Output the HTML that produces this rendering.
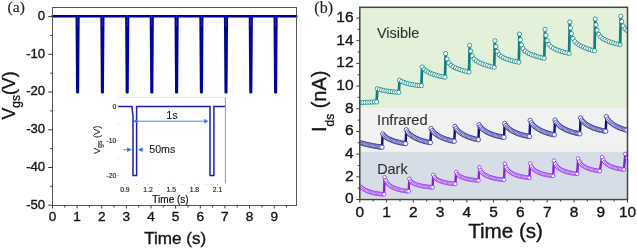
<!DOCTYPE html>
<html><head><meta charset="utf-8"><title>Figure</title>
<style>html,body{margin:0;padding:0;background:#fff;}body{width:637px;height:248px;overflow:hidden;}svg{display:block;}</style>
</head><body><svg width="637" height="248" viewBox="0 0 637 248"><defs><filter id="gb" x="0" y="0" width="100%" height="100%"><feGaussianBlur stdDeviation="0.3"/></filter></defs><g filter="url(#gb)"><rect width="637" height="248" fill="#fff"/><text x="7.6" y="12.3" font-family="Liberation Serif, Times New Roman, serif" font-size="15.5" stroke="#222" stroke-width="0.15" fill="#222">(a)</text><path d="M52.5 16.3 L76.70 16.3 L77.25 92.3 L77.95 92.3 L78.50 16.3 L101.50 16.3 L102.05 92.3 L102.75 92.3 L103.30 16.3 L126.30 16.3 L126.85 92.3 L127.55 92.3 L128.10 16.3 L150.90 16.3 L151.45 92.3 L152.15 92.3 L152.70 16.3 L175.70 16.3 L176.25 92.3 L176.95 92.3 L177.50 16.3 L200.50 16.3 L201.05 92.3 L201.75 92.3 L202.30 16.3 L225.10 16.3 L225.65 92.3 L226.35 92.3 L226.90 16.3 L249.90 16.3 L250.45 92.3 L251.15 92.3 L251.70 16.3 L274.70 16.3 L275.25 92.3 L275.95 92.3 L276.50 16.3 L296.5 16.3" fill="none" stroke="#0303a6" stroke-width="2.4" stroke-linejoin="round" stroke-linecap="round"/><line x1="77.6" y1="16.8" x2="77.6" y2="26" stroke="#5a5ad8" stroke-width="0.6" stroke-opacity="0.7"/><line x1="102.4" y1="16.8" x2="102.4" y2="26" stroke="#5a5ad8" stroke-width="0.6" stroke-opacity="0.7"/><line x1="127.2" y1="16.8" x2="127.2" y2="26" stroke="#5a5ad8" stroke-width="0.6" stroke-opacity="0.7"/><line x1="151.8" y1="16.8" x2="151.8" y2="26" stroke="#5a5ad8" stroke-width="0.6" stroke-opacity="0.7"/><line x1="176.6" y1="16.8" x2="176.6" y2="26" stroke="#5a5ad8" stroke-width="0.6" stroke-opacity="0.7"/><line x1="201.4" y1="16.8" x2="201.4" y2="26" stroke="#5a5ad8" stroke-width="0.6" stroke-opacity="0.7"/><line x1="226.0" y1="16.8" x2="226.0" y2="26" stroke="#5a5ad8" stroke-width="0.6" stroke-opacity="0.7"/><line x1="250.8" y1="16.8" x2="250.8" y2="26" stroke="#5a5ad8" stroke-width="0.6" stroke-opacity="0.7"/><line x1="275.6" y1="16.8" x2="275.6" y2="26" stroke="#5a5ad8" stroke-width="0.6" stroke-opacity="0.7"/><rect x="118.2" y="97.4" width="107.2" height="86" fill="#fff"/><line x1="118.2" y1="97.5" x2="225.4" y2="97.5" stroke="#ececec" stroke-width="1"/><line x1="225.4" y1="97.5" x2="225.4" y2="183.5" stroke="#999" stroke-width="1"/><path d="M118.2 106.4 L131.9 106.4 L133.0 116 L133.0 175.6 L136.6 175.6 L136.6 106.4 L210.0 106.4 L210.0 175.6 L213.9 175.6 L213.9 106.4 L225 106.4" fill="none" stroke="#1f1fc0" stroke-width="1.5"/><line x1="134" y1="121.2" x2="205" y2="121.2" stroke="#3f7ad6" stroke-width="0.9"/><path d="M133.0 121.2 L137.6 118.9 L137.6 123.5 Z" fill="#3f7ad6"/><path d="M208.7 121.2 L204.1 118.9 L204.1 123.5 Z" fill="#3f7ad6"/><line x1="123.3" y1="149.7" x2="128" y2="149.7" stroke="#3f7ad6" stroke-width="0.8"/><path d="M131.8 149.7 L127.1 147.3 L127.1 152.1 Z" fill="#3f7ad6"/><line x1="142" y1="149.7" x2="143.5" y2="149.7" stroke="#3f7ad6" stroke-width="0.8"/><path d="M137.9 149.7 L142.6 147.3 L142.6 152.1 Z" fill="#3f7ad6"/><text x="172" y="119.2" font-family="Liberation Sans, Arial, sans-serif" font-size="11" text-anchor="middle" stroke="#222" stroke-width="0.1" fill="#222">1s</text><text x="149.3" y="153.0" font-family="Liberation Sans, Arial, sans-serif" font-size="10.6" stroke="#222" stroke-width="0.1" fill="#222">50ms</text><text x="116.3" y="108.5" font-family="Liberation Sans, Arial, sans-serif" font-size="6.8" text-anchor="end" stroke="#222" stroke-width="0.15" fill="#222">0</text><line x1="117.2" y1="106.1" x2="118.6" y2="106.1" stroke="#777" stroke-width="0.6"/><text x="116.3" y="143.2" font-family="Liberation Sans, Arial, sans-serif" font-size="6.8" text-anchor="end" stroke="#222" stroke-width="0.15" fill="#222">-10</text><line x1="117.2" y1="140.8" x2="118.6" y2="140.8" stroke="#777" stroke-width="0.6"/><text x="116.3" y="178.0" font-family="Liberation Sans, Arial, sans-serif" font-size="6.8" text-anchor="end" stroke="#222" stroke-width="0.15" fill="#222">-20</text><line x1="117.2" y1="175.6" x2="118.6" y2="175.6" stroke="#777" stroke-width="0.6"/><line x1="118" y1="123.5" x2="119" y2="123.5" stroke="#aaa" stroke-width="0.6"/><line x1="118" y1="158.2" x2="119" y2="158.2" stroke="#aaa" stroke-width="0.6"/><text x="124.9" y="191.8" font-family="Liberation Sans, Arial, sans-serif" font-size="6.8" text-anchor="middle" stroke="#222" stroke-width="0.15" fill="#222">0.9</text><line x1="124.9" y1="183.8" x2="124.9" y2="185.2" stroke="#888" stroke-width="0.6"/><text x="148.1" y="191.8" font-family="Liberation Sans, Arial, sans-serif" font-size="6.8" text-anchor="middle" stroke="#222" stroke-width="0.15" fill="#222">1.2</text><line x1="148.1" y1="183.8" x2="148.1" y2="185.2" stroke="#888" stroke-width="0.6"/><text x="171.2" y="191.8" font-family="Liberation Sans, Arial, sans-serif" font-size="6.8" text-anchor="middle" stroke="#222" stroke-width="0.15" fill="#222">1.5</text><line x1="171.2" y1="183.8" x2="171.2" y2="185.2" stroke="#888" stroke-width="0.6"/><text x="194.4" y="191.8" font-family="Liberation Sans, Arial, sans-serif" font-size="6.8" text-anchor="middle" stroke="#222" stroke-width="0.15" fill="#222">1.8</text><line x1="194.4" y1="183.8" x2="194.4" y2="185.2" stroke="#888" stroke-width="0.6"/><text x="217.5" y="191.8" font-family="Liberation Sans, Arial, sans-serif" font-size="6.8" text-anchor="middle" stroke="#222" stroke-width="0.15" fill="#222">2.1</text><line x1="217.5" y1="183.8" x2="217.5" y2="185.2" stroke="#888" stroke-width="0.6"/><line x1="136.5" y1="184" x2="136.5" y2="185" stroke="#aaa" stroke-width="0.6"/><line x1="159.6" y1="184" x2="159.6" y2="185" stroke="#aaa" stroke-width="0.6"/><line x1="182.8" y1="184" x2="182.8" y2="185" stroke="#aaa" stroke-width="0.6"/><line x1="206.0" y1="184" x2="206.0" y2="185" stroke="#aaa" stroke-width="0.6"/><text x="170.5" y="202.5" font-family="Liberation Sans, Arial, sans-serif" font-size="10" text-anchor="middle" stroke="#111" stroke-width="0.2" fill="#111">Time (s)</text><text transform="translate(99.6,139.8) rotate(-90)" font-family="Liberation Sans, Arial, sans-serif" font-size="9.3" text-anchor="middle" fill="#222" stroke="#222" stroke-width="0.15">V<tspan font-size="6.6" dy="2">gs</tspan><tspan dy="-2"> (V)</tspan></text><rect x="52.5" y="7.5" width="244.0" height="198.0" fill="none" stroke="#555" stroke-width="1.0"/><line x1="48.2" y1="16.6" x2="52.5" y2="16.6" stroke="#3c3c3c" stroke-width="1"/><text x="45.2" y="19.9" font-family="Liberation Sans, Arial, sans-serif" font-size="13.2" text-anchor="end" stroke="#151515" stroke-width="0.35" fill="#151515">0</text><line x1="48.2" y1="54.3" x2="52.5" y2="54.3" stroke="#3c3c3c" stroke-width="1"/><text x="45.2" y="57.6" font-family="Liberation Sans, Arial, sans-serif" font-size="13.2" text-anchor="end" stroke="#151515" stroke-width="0.35" fill="#151515">-10</text><line x1="48.2" y1="92.0" x2="52.5" y2="92.0" stroke="#3c3c3c" stroke-width="1"/><text x="45.2" y="95.3" font-family="Liberation Sans, Arial, sans-serif" font-size="13.2" text-anchor="end" stroke="#151515" stroke-width="0.35" fill="#151515">-20</text><line x1="48.2" y1="129.8" x2="52.5" y2="129.8" stroke="#3c3c3c" stroke-width="1"/><text x="45.2" y="133.1" font-family="Liberation Sans, Arial, sans-serif" font-size="13.2" text-anchor="end" stroke="#151515" stroke-width="0.35" fill="#151515">-30</text><line x1="48.2" y1="167.5" x2="52.5" y2="167.5" stroke="#3c3c3c" stroke-width="1"/><text x="45.2" y="170.8" font-family="Liberation Sans, Arial, sans-serif" font-size="13.2" text-anchor="end" stroke="#151515" stroke-width="0.35" fill="#151515">-40</text><line x1="48.2" y1="205.2" x2="52.5" y2="205.2" stroke="#3c3c3c" stroke-width="1"/><text x="45.2" y="208.5" font-family="Liberation Sans, Arial, sans-serif" font-size="13.2" text-anchor="end" stroke="#151515" stroke-width="0.35" fill="#151515">-50</text><line x1="50.3" y1="35.5" x2="52.5" y2="35.5" stroke="#3c3c3c" stroke-width="1"/><line x1="50.3" y1="73.2" x2="52.5" y2="73.2" stroke="#3c3c3c" stroke-width="1"/><line x1="50.3" y1="110.9" x2="52.5" y2="110.9" stroke="#3c3c3c" stroke-width="1"/><line x1="50.3" y1="148.6" x2="52.5" y2="148.6" stroke="#3c3c3c" stroke-width="1"/><line x1="50.3" y1="186.3" x2="52.5" y2="186.3" stroke="#3c3c3c" stroke-width="1"/><line x1="52.5" y1="205.5" x2="52.5" y2="208.5" stroke="#3c3c3c" stroke-width="1"/><text x="52.5" y="221.2" font-family="Liberation Sans, Arial, sans-serif" font-size="13.6" text-anchor="middle" stroke="#151515" stroke-width="0.35" fill="#151515">0</text><line x1="77.1" y1="205.5" x2="77.1" y2="208.5" stroke="#3c3c3c" stroke-width="1"/><text x="77.1" y="221.2" font-family="Liberation Sans, Arial, sans-serif" font-size="13.6" text-anchor="middle" stroke="#151515" stroke-width="0.35" fill="#151515">1</text><line x1="101.8" y1="205.5" x2="101.8" y2="208.5" stroke="#3c3c3c" stroke-width="1"/><text x="101.8" y="221.2" font-family="Liberation Sans, Arial, sans-serif" font-size="13.6" text-anchor="middle" stroke="#151515" stroke-width="0.35" fill="#151515">2</text><line x1="126.4" y1="205.5" x2="126.4" y2="208.5" stroke="#3c3c3c" stroke-width="1"/><text x="126.4" y="221.2" font-family="Liberation Sans, Arial, sans-serif" font-size="13.6" text-anchor="middle" stroke="#151515" stroke-width="0.35" fill="#151515">3</text><line x1="151.0" y1="205.5" x2="151.0" y2="208.5" stroke="#3c3c3c" stroke-width="1"/><text x="151.0" y="221.2" font-family="Liberation Sans, Arial, sans-serif" font-size="13.6" text-anchor="middle" stroke="#151515" stroke-width="0.35" fill="#151515">4</text><line x1="175.6" y1="205.5" x2="175.6" y2="208.5" stroke="#3c3c3c" stroke-width="1"/><text x="175.6" y="221.2" font-family="Liberation Sans, Arial, sans-serif" font-size="13.6" text-anchor="middle" stroke="#151515" stroke-width="0.35" fill="#151515">5</text><line x1="200.3" y1="205.5" x2="200.3" y2="208.5" stroke="#3c3c3c" stroke-width="1"/><text x="200.3" y="221.2" font-family="Liberation Sans, Arial, sans-serif" font-size="13.6" text-anchor="middle" stroke="#151515" stroke-width="0.35" fill="#151515">6</text><line x1="224.9" y1="205.5" x2="224.9" y2="208.5" stroke="#3c3c3c" stroke-width="1"/><text x="224.9" y="221.2" font-family="Liberation Sans, Arial, sans-serif" font-size="13.6" text-anchor="middle" stroke="#151515" stroke-width="0.35" fill="#151515">7</text><line x1="249.5" y1="205.5" x2="249.5" y2="208.5" stroke="#3c3c3c" stroke-width="1"/><text x="249.5" y="221.2" font-family="Liberation Sans, Arial, sans-serif" font-size="13.6" text-anchor="middle" stroke="#151515" stroke-width="0.35" fill="#151515">8</text><line x1="274.2" y1="205.5" x2="274.2" y2="208.5" stroke="#3c3c3c" stroke-width="1"/><text x="274.2" y="221.2" font-family="Liberation Sans, Arial, sans-serif" font-size="13.6" text-anchor="middle" stroke="#151515" stroke-width="0.35" fill="#151515">9</text><line x1="64.8" y1="205.5" x2="64.8" y2="207.5" stroke="#3c3c3c" stroke-width="1"/><line x1="89.4" y1="205.5" x2="89.4" y2="207.5" stroke="#3c3c3c" stroke-width="1"/><line x1="114.1" y1="205.5" x2="114.1" y2="207.5" stroke="#3c3c3c" stroke-width="1"/><line x1="138.7" y1="205.5" x2="138.7" y2="207.5" stroke="#3c3c3c" stroke-width="1"/><line x1="163.3" y1="205.5" x2="163.3" y2="207.5" stroke="#3c3c3c" stroke-width="1"/><line x1="188.0" y1="205.5" x2="188.0" y2="207.5" stroke="#3c3c3c" stroke-width="1"/><line x1="212.6" y1="205.5" x2="212.6" y2="207.5" stroke="#3c3c3c" stroke-width="1"/><line x1="237.2" y1="205.5" x2="237.2" y2="207.5" stroke="#3c3c3c" stroke-width="1"/><line x1="261.9" y1="205.5" x2="261.9" y2="207.5" stroke="#3c3c3c" stroke-width="1"/><line x1="286.5" y1="205.5" x2="286.5" y2="207.5" stroke="#3c3c3c" stroke-width="1"/><text x="175.2" y="243.9" font-family="Liberation Sans, Arial, sans-serif" font-size="16.8" text-anchor="middle" textLength="62" lengthAdjust="spacingAndGlyphs" stroke="#151515" stroke-width="0.35" fill="#151515">Time (s)</text><text transform="translate(14.8,95.5) rotate(-90)" font-family="Liberation Sans, Arial, sans-serif" font-size="17.7" text-anchor="middle" fill="#151515" stroke="#151515" stroke-width="0.35">V<tspan font-size="12" dy="5">gs</tspan><tspan dy="-5">(V)</tspan></text><rect x="359.8" y="7.3" width="267.7" height="100.7" fill="#e3f1da"/><rect x="359.8" y="108.0" width="267.7" height="43.8" fill="#f1f1f1"/><rect x="359.8" y="151.8" width="267.7" height="46.5" fill="#d7dde6"/><rect x="359.8" y="198.3" width="267.7" height="1.1999999999999886" fill="#e8ecf2"/><text x="376.9" y="38.45" font-family="Liberation Sans, Arial, sans-serif" font-size="14.5" textLength="42.3" lengthAdjust="spacingAndGlyphs" stroke="#333" stroke-width="0.12" fill="#333">Visible</text><text x="377.1" y="125.2" font-family="Liberation Sans, Arial, sans-serif" font-size="14.0" textLength="50.6" lengthAdjust="spacingAndGlyphs" stroke="#333" stroke-width="0.12" fill="#333">Infrared</text><text x="377.2" y="174.0" font-family="Liberation Sans, Arial, sans-serif" font-size="14.2" textLength="30.4" lengthAdjust="spacingAndGlyphs" stroke="#333" stroke-width="0.12" fill="#333">Dark</text><defs><filter id="bl" x="-5%" y="-5%" width="110%" height="110%"><feGaussianBlur stdDeviation="0.35"/></filter><clipPath id="cb"><rect x="359.8" y="7.3" width="267.7" height="192.2"/></clipPath></defs><g clip-path="url(#cb)"><g filter="url(#bl)"><g fill="#fff" stroke="#0a8080" stroke-width="0.75"><path d="M360.50 102.60 L361.31 102.56 L362.11 102.53 L362.92 102.49 L363.72 102.46 L364.52 102.42 L365.33 102.39 L366.13 102.36 L366.94 102.32 L367.75 102.28 L368.55 102.25 L369.36 102.22 L370.16 102.18 L370.97 102.14 L371.77 102.11 L372.58 102.08 L373.38 102.04 L374.19 102.01 L374.99 101.97 L375.80 101.94 L376.60 101.90 L376.60 101.90 L377.30 88.70 L378.38 89.07 L379.45 89.41 L380.53 89.72 L381.60 90.00 L382.68 90.26 L383.75 90.50 L384.82 90.71 L385.90 90.91 L386.98 91.09 L388.05 91.26 L389.12 91.41 L390.20 91.55 L391.28 91.67 L392.35 91.79 L393.43 91.89 L394.50 91.99 L395.57 92.08 L396.65 92.16 L397.73 92.23 L398.80 92.30 L398.80 92.30 L399.50 80.20 L400.60 80.89 L401.69 81.46 L402.78 81.95 L403.88 82.38 L404.98 82.77 L406.07 83.12 L407.16 83.43 L408.26 83.72 L409.36 83.98 L410.45 84.22 L411.54 84.43 L412.64 84.63 L413.74 84.81 L414.83 84.97 L415.92 85.12 L417.02 85.26 L418.12 85.39 L419.21 85.50 L420.30 85.60 L421.40 85.70 L421.40 85.70 L422.10 67.00 L423.24 68.46 L424.39 69.57 L425.53 70.48 L426.68 71.25 L427.82 71.92 L428.97 72.53 L430.11 73.07 L431.26 73.57 L432.40 74.03 L433.55 74.45 L434.69 74.84 L435.84 75.20 L436.99 75.52 L438.13 75.83 L439.27 76.10 L440.42 76.36 L441.56 76.60 L442.71 76.81 L443.86 77.02 L445.00 77.20 L445.00 77.20 L445.70 53.60 L446.87 58.63 L448.03 61.60 L449.19 63.48 L450.36 64.76 L451.52 65.71 L452.69 66.48 L453.86 67.13 L455.02 67.70 L456.19 68.22 L457.35 68.69 L458.51 69.13 L459.68 69.54 L460.84 69.92 L462.01 70.28 L463.18 70.62 L464.34 70.93 L465.50 71.22 L466.67 71.50 L467.83 71.76 L469.00 72.00 L469.00 72.00 L469.70 45.30 L470.93 51.99 L472.15 55.74 L473.38 58.00 L474.60 59.47 L475.82 60.52 L477.05 61.35 L478.27 62.04 L479.50 62.65 L480.72 63.20 L481.95 63.70 L483.18 64.18 L484.40 64.62 L485.62 65.03 L486.85 65.42 L488.07 65.78 L489.30 66.12 L490.52 66.44 L491.75 66.75 L492.97 67.03 L494.20 67.30 L494.20 67.30 L494.90 40.80 L496.09 47.65 L497.29 51.49 L498.48 53.76 L499.68 55.20 L500.88 56.21 L502.07 56.97 L503.26 57.60 L504.46 58.14 L505.65 58.62 L506.85 59.06 L508.04 59.47 L509.24 59.86 L510.43 60.22 L511.63 60.55 L512.82 60.87 L514.02 61.17 L515.21 61.45 L516.41 61.72 L517.60 61.96 L518.80 62.20 L518.80 62.20 L519.50 34.10 L520.74 41.99 L521.98 46.33 L523.22 48.86 L524.46 50.45 L525.70 51.57 L526.94 52.41 L528.18 53.11 L529.42 53.72 L530.66 54.27 L531.90 54.77 L533.14 55.23 L534.38 55.67 L535.62 56.07 L536.86 56.45 L538.10 56.81 L539.34 57.15 L540.58 57.46 L541.82 57.76 L543.06 58.04 L544.30 58.30 L544.30 58.30 L545.00 29.40 L546.21 37.11 L547.41 41.42 L548.62 43.95 L549.82 45.57 L551.02 46.69 L552.23 47.54 L553.44 48.24 L554.64 48.85 L555.85 49.39 L557.05 49.89 L558.25 50.35 L559.46 50.78 L560.66 51.18 L561.87 51.56 L563.08 51.91 L564.28 52.25 L565.49 52.56 L566.69 52.86 L567.89 53.14 L569.10 53.40 L569.10 53.40 L569.80 22.00 L571.04 31.37 L572.27 36.54 L573.51 39.55 L574.74 41.45 L575.98 42.78 L577.21 43.79 L578.45 44.63 L579.68 45.35 L580.92 46.00 L582.15 46.60 L583.38 47.15 L584.62 47.66 L585.86 48.15 L587.09 48.60 L588.33 49.03 L589.56 49.43 L590.79 49.80 L592.03 50.16 L593.26 50.49 L594.50 50.80 L594.50 50.80 L595.20 19.00 L596.45 27.43 L597.69 32.06 L598.94 34.74 L600.18 36.44 L601.43 37.63 L602.67 38.53 L603.92 39.27 L605.16 39.92 L606.41 40.50 L607.65 41.04 L608.89 41.53 L610.14 42.00 L611.38 42.43 L612.63 42.83 L613.88 43.22 L615.12 43.57 L616.37 43.91 L617.61 44.22 L618.86 44.52 L620.10 44.80 L620.10 44.80 L620.80 16.20 L621.11 18.21 L621.42 19.93 L621.73 21.40 L622.04 22.66 L622.35 23.75 L622.66 24.69 L622.97 25.50 L623.28 26.21 L623.59 26.83 L623.90 27.38 L624.21 27.86 L624.52 28.28 L624.83 28.66 L625.14 29.00 L625.45 29.31 L625.76 29.59 L626.07 29.85 L626.38 30.08 L626.69 30.30 L627.00 30.50 L627.00 30.50" fill="none" stroke="#0a8080" stroke-width="1.2" stroke-linejoin="round"/><line x1="376.60" y1="101.90" x2="377.30" y2="88.70" stroke="#0a8080" stroke-width="2.7" stroke-linecap="round"/><line x1="398.80" y1="92.30" x2="399.50" y2="80.20" stroke="#0a8080" stroke-width="2.7" stroke-linecap="round"/><line x1="421.40" y1="85.70" x2="422.10" y2="67.00" stroke="#0a8080" stroke-width="2.7" stroke-linecap="round"/><line x1="445.00" y1="77.20" x2="445.70" y2="53.60" stroke="#0a8080" stroke-width="2.7" stroke-linecap="round"/><line x1="469.00" y1="72.00" x2="469.70" y2="45.30" stroke="#0a8080" stroke-width="2.7" stroke-linecap="round"/><line x1="494.20" y1="67.30" x2="494.90" y2="40.80" stroke="#0a8080" stroke-width="2.7" stroke-linecap="round"/><line x1="518.80" y1="62.20" x2="519.50" y2="34.10" stroke="#0a8080" stroke-width="2.7" stroke-linecap="round"/><line x1="544.30" y1="58.30" x2="545.00" y2="29.40" stroke="#0a8080" stroke-width="2.7" stroke-linecap="round"/><line x1="569.10" y1="53.40" x2="569.80" y2="22.00" stroke="#0a8080" stroke-width="2.7" stroke-linecap="round"/><line x1="594.50" y1="50.80" x2="595.20" y2="19.00" stroke="#0a8080" stroke-width="2.7" stroke-linecap="round"/><line x1="620.10" y1="44.80" x2="620.80" y2="16.20" stroke="#0a8080" stroke-width="2.7" stroke-linecap="round"/><circle cx="360.50" cy="102.60" r="2.1"/><circle cx="362.80" cy="102.50" r="2.1"/><circle cx="365.10" cy="102.40" r="2.1"/><circle cx="367.40" cy="102.30" r="2.1"/><circle cx="369.70" cy="102.20" r="2.1"/><circle cx="372.00" cy="102.10" r="2.1"/><circle cx="374.30" cy="102.00" r="2.1"/><circle cx="376.60" cy="101.90" r="2.1"/><circle cx="377.30" cy="88.70" r="2.1"/><circle cx="379.44" cy="89.41" r="2.1"/><circle cx="381.59" cy="90.00" r="2.1"/><circle cx="383.73" cy="90.49" r="2.1"/><circle cx="385.88" cy="90.91" r="2.1"/><circle cx="388.03" cy="91.25" r="2.1"/><circle cx="390.19" cy="91.54" r="2.1"/><circle cx="392.34" cy="91.79" r="2.1"/><circle cx="394.49" cy="91.99" r="2.1"/><circle cx="396.65" cy="92.16" r="2.1"/><circle cx="398.80" cy="92.30" r="2.1"/><circle cx="399.50" cy="80.20" r="2.1"/><circle cx="401.66" cy="81.44" r="2.1"/><circle cx="403.83" cy="82.37" r="2.1"/><circle cx="406.02" cy="83.10" r="2.1"/><circle cx="408.21" cy="83.71" r="2.1"/><circle cx="410.41" cy="84.21" r="2.1"/><circle cx="412.60" cy="84.62" r="2.1"/><circle cx="414.80" cy="84.97" r="2.1"/><circle cx="417.00" cy="85.26" r="2.1"/><circle cx="419.20" cy="85.50" r="2.1"/><circle cx="421.40" cy="85.70" r="2.1"/><circle cx="422.10" cy="67.00" r="2.1"/><circle cx="424.06" cy="69.27" r="2.1"/><circle cx="426.10" cy="70.87" r="2.1"/><circle cx="428.17" cy="72.11" r="2.1"/><circle cx="430.26" cy="73.14" r="2.1"/><circle cx="432.35" cy="74.01" r="2.1"/><circle cx="434.45" cy="74.76" r="2.1"/><circle cx="436.56" cy="75.40" r="2.1"/><circle cx="438.66" cy="75.96" r="2.1"/><circle cx="440.78" cy="76.44" r="2.1"/><circle cx="442.89" cy="76.85" r="2.1"/><circle cx="445.00" cy="77.20" r="2.1"/><circle cx="445.70" cy="53.60" r="2.1"/><circle cx="446.98" cy="58.98" r="2.1"/><circle cx="448.79" cy="62.90" r="2.1"/><circle cx="450.91" cy="65.24" r="2.1"/><circle cx="453.13" cy="66.74" r="2.1"/><circle cx="455.38" cy="67.87" r="2.1"/><circle cx="457.64" cy="68.80" r="2.1"/><circle cx="459.91" cy="69.62" r="2.1"/><circle cx="462.18" cy="70.33" r="2.1"/><circle cx="464.45" cy="70.96" r="2.1"/><circle cx="466.72" cy="71.51" r="2.1"/><circle cx="469.00" cy="72.00" r="2.1"/><circle cx="469.70" cy="45.30" r="2.1"/><circle cx="470.71" cy="51.06" r="2.1"/><circle cx="472.20" cy="55.85" r="2.1"/><circle cx="474.16" cy="59.00" r="2.1"/><circle cx="476.31" cy="60.87" r="2.1"/><circle cx="478.52" cy="62.17" r="2.1"/><circle cx="480.75" cy="63.21" r="2.1"/><circle cx="482.98" cy="64.10" r="2.1"/><circle cx="485.22" cy="64.89" r="2.1"/><circle cx="487.46" cy="65.60" r="2.1"/><circle cx="489.70" cy="66.23" r="2.1"/><circle cx="491.95" cy="66.80" r="2.1"/><circle cx="494.20" cy="67.30" r="2.1"/><circle cx="494.90" cy="40.80" r="2.1"/><circle cx="495.84" cy="46.51" r="2.1"/><circle cx="497.24" cy="51.36" r="2.1"/><circle cx="499.13" cy="54.61" r="2.1"/><circle cx="501.24" cy="56.46" r="2.1"/><circle cx="503.41" cy="57.67" r="2.1"/><circle cx="505.60" cy="58.60" r="2.1"/><circle cx="507.79" cy="59.39" r="2.1"/><circle cx="509.99" cy="60.08" r="2.1"/><circle cx="512.19" cy="60.70" r="2.1"/><circle cx="514.39" cy="61.26" r="2.1"/><circle cx="516.59" cy="61.75" r="2.1"/><circle cx="518.80" cy="62.20" r="2.1"/><circle cx="519.50" cy="34.10" r="2.1"/><circle cx="520.31" cy="39.79" r="2.1"/><circle cx="521.49" cy="44.90" r="2.1"/><circle cx="523.15" cy="48.75" r="2.1"/><circle cx="525.14" cy="51.10" r="2.1"/><circle cx="527.22" cy="52.58" r="2.1"/><circle cx="529.34" cy="53.68" r="2.1"/><circle cx="531.46" cy="54.60" r="2.1"/><circle cx="533.60" cy="55.40" r="2.1"/><circle cx="535.73" cy="56.11" r="2.1"/><circle cx="537.87" cy="56.75" r="2.1"/><circle cx="540.01" cy="57.32" r="2.1"/><circle cx="542.16" cy="57.84" r="2.1"/><circle cx="544.30" cy="58.30" r="2.1"/><circle cx="545.00" cy="29.40" r="2.1"/><circle cx="545.87" cy="35.39" r="2.1"/><circle cx="547.16" cy="40.70" r="2.1"/><circle cx="548.98" cy="44.51" r="2.1"/><circle cx="551.11" cy="46.75" r="2.1"/><circle cx="553.32" cy="48.18" r="2.1"/><circle cx="555.56" cy="49.26" r="2.1"/><circle cx="557.81" cy="50.18" r="2.1"/><circle cx="560.06" cy="50.98" r="2.1"/><circle cx="562.32" cy="51.69" r="2.1"/><circle cx="564.57" cy="52.33" r="2.1"/><circle cx="566.84" cy="52.89" r="2.1"/><circle cx="569.10" cy="53.40" r="2.1"/><circle cx="569.80" cy="22.00" r="2.1"/><circle cx="570.50" cy="28.01" r="2.1"/><circle cx="571.50" cy="33.65" r="2.1"/><circle cx="572.96" cy="38.39" r="2.1"/><circle cx="574.86" cy="41.60" r="2.1"/><circle cx="576.96" cy="43.61" r="2.1"/><circle cx="579.12" cy="45.03" r="2.1"/><circle cx="581.30" cy="46.19" r="2.1"/><circle cx="583.49" cy="47.19" r="2.1"/><circle cx="585.68" cy="48.08" r="2.1"/><circle cx="587.88" cy="48.88" r="2.1"/><circle cx="590.09" cy="49.59" r="2.1"/><circle cx="592.29" cy="50.23" r="2.1"/><circle cx="594.50" cy="50.80" r="2.1"/><circle cx="595.20" cy="19.00" r="2.1"/><circle cx="595.97" cy="24.83" r="2.1"/><circle cx="597.09" cy="30.17" r="2.1"/><circle cx="598.70" cy="34.34" r="2.1"/><circle cx="600.68" cy="36.96" r="2.1"/><circle cx="602.78" cy="38.60" r="2.1"/><circle cx="604.92" cy="39.80" r="2.1"/><circle cx="607.08" cy="40.80" r="2.1"/><circle cx="609.24" cy="41.67" r="2.1"/><circle cx="611.41" cy="42.44" r="2.1"/><circle cx="613.58" cy="43.13" r="2.1"/><circle cx="615.75" cy="43.75" r="2.1"/><circle cx="617.92" cy="44.30" r="2.1"/><circle cx="620.10" cy="44.80" r="2.1"/><circle cx="620.80" cy="16.20" r="2.1"/><circle cx="621.76" cy="21.52" r="2.1"/><circle cx="623.16" cy="25.95" r="2.1"/><circle cx="624.99" cy="28.84" r="2.1"/><circle cx="627.00" cy="30.50" r="2.1"/></g><g fill="#fff" stroke="#101090" stroke-width="0.65"><path d="M361.00 142.90 L362.05 143.21 L363.10 143.51 L364.15 143.80 L365.20 144.07 L366.25 144.33 L367.30 144.59 L368.35 144.83 L369.40 145.06 L370.45 145.28 L371.50 145.49 L372.55 145.70 L373.60 145.90 L374.65 146.08 L375.70 146.26 L376.75 146.44 L377.80 146.60 L378.85 146.76 L379.90 146.91 L380.95 147.06 L382.00 147.20 L382.00 147.20 L382.70 133.90 L383.84 135.46 L384.99 136.55 L386.13 137.40 L387.28 138.11 L388.43 138.73 L389.57 139.29 L390.71 139.79 L391.86 140.25 L393.00 140.67 L394.15 141.06 L395.30 141.42 L396.44 141.75 L397.59 142.05 L398.73 142.33 L399.88 142.59 L401.02 142.82 L402.17 143.04 L403.31 143.24 L404.46 143.43 L405.60 143.60 L405.60 143.60 L406.30 129.80 L407.50 131.91 L408.71 133.37 L409.92 134.50 L411.12 135.44 L412.32 136.26 L413.53 137.00 L414.74 137.67 L415.94 138.27 L417.14 138.83 L418.35 139.34 L419.56 139.80 L420.76 140.23 L421.96 140.62 L423.17 140.98 L424.38 141.31 L425.58 141.62 L426.78 141.90 L427.99 142.15 L429.19 142.39 L430.40 142.60 L430.40 142.60 L431.10 128.50 L432.26 130.57 L433.42 132.02 L434.58 133.14 L435.74 134.08 L436.90 134.90 L438.06 135.63 L439.22 136.29 L440.38 136.90 L441.54 137.46 L442.70 137.97 L443.86 138.44 L445.02 138.87 L446.18 139.27 L447.34 139.64 L448.50 139.98 L449.66 140.29 L450.82 140.57 L451.98 140.83 L453.14 141.08 L454.30 141.30 L454.30 141.30 L455.00 126.40 L456.17 128.56 L457.34 130.07 L458.51 131.24 L459.68 132.21 L460.85 133.06 L462.02 133.82 L463.19 134.52 L464.36 135.15 L465.53 135.72 L466.70 136.26 L467.87 136.74 L469.04 137.19 L470.21 137.60 L471.38 137.98 L472.55 138.33 L473.72 138.65 L474.89 138.95 L476.06 139.22 L477.23 139.47 L478.40 139.70 L478.40 139.70 L479.10 124.70 L480.34 126.81 L481.59 128.26 L482.83 129.38 L484.08 130.31 L485.32 131.12 L486.57 131.85 L487.81 132.51 L489.06 133.10 L490.31 133.65 L491.55 134.15 L492.79 134.60 L494.04 135.02 L495.28 135.40 L496.53 135.75 L497.77 136.07 L499.02 136.36 L500.26 136.63 L501.51 136.87 L502.75 137.10 L504.00 137.30 L504.00 137.30 L504.70 123.50 L505.94 125.67 L507.18 127.17 L508.42 128.32 L509.66 129.28 L510.90 130.12 L512.14 130.87 L513.38 131.55 L514.62 132.16 L515.86 132.72 L517.10 133.24 L518.34 133.71 L519.58 134.14 L520.82 134.53 L522.06 134.90 L523.30 135.23 L524.54 135.53 L525.78 135.80 L527.02 136.06 L528.26 136.29 L529.50 136.50 L529.50 136.50 L530.20 120.40 L531.41 122.77 L532.61 124.42 L533.82 125.69 L535.02 126.75 L536.23 127.67 L537.43 128.50 L538.63 129.25 L539.84 129.93 L541.04 130.56 L542.25 131.13 L543.46 131.65 L544.66 132.14 L545.87 132.58 L547.07 132.98 L548.27 133.35 L549.48 133.69 L550.68 134.01 L551.89 134.29 L553.09 134.56 L554.30 134.80 L554.30 134.80 L555.00 120.10 L556.25 122.39 L557.49 123.97 L558.74 125.19 L559.98 126.20 L561.23 127.08 L562.47 127.87 L563.72 128.59 L564.96 129.24 L566.21 129.83 L567.45 130.37 L568.69 130.87 L569.94 131.32 L571.18 131.73 L572.43 132.11 L573.67 132.46 L574.92 132.78 L576.16 133.07 L577.41 133.33 L578.65 133.58 L579.90 133.80 L579.90 133.80 L580.60 117.90 L581.86 120.14 L583.11 121.67 L584.37 122.85 L585.62 123.84 L586.88 124.70 L588.13 125.46 L589.38 126.16 L590.64 126.79 L591.89 127.36 L593.15 127.89 L594.41 128.37 L595.66 128.81 L596.92 129.21 L598.17 129.57 L599.43 129.91 L600.68 130.22 L601.94 130.50 L603.19 130.75 L604.45 130.99 L605.70 131.20 L605.70 131.20 L606.40 116.70 L607.43 118.76 L608.46 120.25 L609.49 121.42 L610.52 122.40 L611.55 123.25 L612.58 124.01 L613.61 124.71 L614.64 125.35 L615.67 125.94 L616.70 126.48 L617.73 126.99 L618.76 127.46 L619.79 127.90 L620.82 128.30 L621.85 128.68 L622.88 129.03 L623.91 129.36 L624.94 129.66 L625.97 129.94 L627.00 130.20 L627.00 130.20" fill="none" stroke="#101090" stroke-width="1.2" stroke-linejoin="round"/><line x1="382.00" y1="147.20" x2="382.70" y2="133.90" stroke="#101090" stroke-width="2.4" stroke-linecap="round"/><line x1="405.60" y1="143.60" x2="406.30" y2="129.80" stroke="#101090" stroke-width="2.4" stroke-linecap="round"/><line x1="430.40" y1="142.60" x2="431.10" y2="128.50" stroke="#101090" stroke-width="2.4" stroke-linecap="round"/><line x1="454.30" y1="141.30" x2="455.00" y2="126.40" stroke="#101090" stroke-width="2.4" stroke-linecap="round"/><line x1="478.40" y1="139.70" x2="479.10" y2="124.70" stroke="#101090" stroke-width="2.4" stroke-linecap="round"/><line x1="504.00" y1="137.30" x2="504.70" y2="123.50" stroke="#101090" stroke-width="2.4" stroke-linecap="round"/><line x1="529.50" y1="136.50" x2="530.20" y2="120.40" stroke="#101090" stroke-width="2.4" stroke-linecap="round"/><line x1="554.30" y1="134.80" x2="555.00" y2="120.10" stroke="#101090" stroke-width="2.4" stroke-linecap="round"/><line x1="579.90" y1="133.80" x2="580.60" y2="117.90" stroke="#101090" stroke-width="2.4" stroke-linecap="round"/><line x1="605.70" y1="131.20" x2="606.40" y2="116.70" stroke="#101090" stroke-width="2.4" stroke-linecap="round"/><circle cx="361.00" cy="142.90" r="2.2"/><circle cx="362.17" cy="143.24" r="2.2"/><circle cx="363.33" cy="143.57" r="2.2"/><circle cx="364.50" cy="143.89" r="2.2"/><circle cx="365.67" cy="144.19" r="2.2"/><circle cx="366.83" cy="144.47" r="2.2"/><circle cx="368.00" cy="144.75" r="2.2"/><circle cx="369.17" cy="145.01" r="2.2"/><circle cx="370.33" cy="145.26" r="2.2"/><circle cx="371.50" cy="145.49" r="2.2"/><circle cx="372.67" cy="145.72" r="2.2"/><circle cx="373.83" cy="145.94" r="2.2"/><circle cx="375.00" cy="146.14" r="2.2"/><circle cx="376.17" cy="146.34" r="2.2"/><circle cx="377.33" cy="146.53" r="2.2"/><circle cx="378.50" cy="146.71" r="2.2"/><circle cx="379.67" cy="146.88" r="2.2"/><circle cx="380.83" cy="147.04" r="2.2"/><circle cx="382.00" cy="147.20" r="2.2"/><circle cx="382.70" cy="133.90" r="2.2"/><circle cx="383.91" cy="135.53" r="2.2"/><circle cx="385.11" cy="136.65" r="2.2"/><circle cx="386.32" cy="137.52" r="2.2"/><circle cx="387.52" cy="138.25" r="2.2"/><circle cx="388.73" cy="138.88" r="2.2"/><circle cx="389.93" cy="139.45" r="2.2"/><circle cx="391.14" cy="139.96" r="2.2"/><circle cx="392.34" cy="140.43" r="2.2"/><circle cx="393.55" cy="140.86" r="2.2"/><circle cx="394.75" cy="141.25" r="2.2"/><circle cx="395.96" cy="141.61" r="2.2"/><circle cx="397.16" cy="141.94" r="2.2"/><circle cx="398.37" cy="142.24" r="2.2"/><circle cx="399.57" cy="142.52" r="2.2"/><circle cx="400.78" cy="142.77" r="2.2"/><circle cx="401.98" cy="143.01" r="2.2"/><circle cx="403.19" cy="143.22" r="2.2"/><circle cx="404.39" cy="143.42" r="2.2"/><circle cx="405.60" cy="143.60" r="2.2"/><circle cx="406.30" cy="129.80" r="2.2"/><circle cx="407.50" cy="131.91" r="2.2"/><circle cx="408.71" cy="133.37" r="2.2"/><circle cx="409.92" cy="134.50" r="2.2"/><circle cx="411.12" cy="135.44" r="2.2"/><circle cx="412.32" cy="136.26" r="2.2"/><circle cx="413.53" cy="137.00" r="2.2"/><circle cx="414.74" cy="137.67" r="2.2"/><circle cx="415.94" cy="138.27" r="2.2"/><circle cx="417.14" cy="138.83" r="2.2"/><circle cx="418.35" cy="139.34" r="2.2"/><circle cx="419.56" cy="139.80" r="2.2"/><circle cx="420.76" cy="140.23" r="2.2"/><circle cx="421.96" cy="140.62" r="2.2"/><circle cx="423.17" cy="140.98" r="2.2"/><circle cx="424.38" cy="141.31" r="2.2"/><circle cx="425.58" cy="141.62" r="2.2"/><circle cx="426.78" cy="141.90" r="2.2"/><circle cx="427.99" cy="142.15" r="2.2"/><circle cx="429.19" cy="142.39" r="2.2"/><circle cx="430.40" cy="142.60" r="2.2"/><circle cx="431.10" cy="128.50" r="2.2"/><circle cx="432.32" cy="130.66" r="2.2"/><circle cx="433.54" cy="132.15" r="2.2"/><circle cx="434.76" cy="133.30" r="2.2"/><circle cx="435.98" cy="134.26" r="2.2"/><circle cx="437.21" cy="135.10" r="2.2"/><circle cx="438.43" cy="135.85" r="2.2"/><circle cx="439.65" cy="136.52" r="2.2"/><circle cx="440.87" cy="137.14" r="2.2"/><circle cx="442.09" cy="137.71" r="2.2"/><circle cx="443.31" cy="138.22" r="2.2"/><circle cx="444.53" cy="138.70" r="2.2"/><circle cx="445.75" cy="139.13" r="2.2"/><circle cx="446.97" cy="139.53" r="2.2"/><circle cx="448.19" cy="139.89" r="2.2"/><circle cx="449.42" cy="140.22" r="2.2"/><circle cx="450.64" cy="140.53" r="2.2"/><circle cx="451.86" cy="140.81" r="2.2"/><circle cx="453.08" cy="141.06" r="2.2"/><circle cx="454.30" cy="141.30" r="2.2"/><circle cx="455.00" cy="126.40" r="2.2"/><circle cx="456.23" cy="128.65" r="2.2"/><circle cx="457.46" cy="130.20" r="2.2"/><circle cx="458.69" cy="131.40" r="2.2"/><circle cx="459.93" cy="132.40" r="2.2"/><circle cx="461.16" cy="133.27" r="2.2"/><circle cx="462.39" cy="134.05" r="2.2"/><circle cx="463.62" cy="134.75" r="2.2"/><circle cx="464.85" cy="135.40" r="2.2"/><circle cx="466.08" cy="135.98" r="2.2"/><circle cx="467.32" cy="136.52" r="2.2"/><circle cx="468.55" cy="137.01" r="2.2"/><circle cx="469.78" cy="137.46" r="2.2"/><circle cx="471.01" cy="137.87" r="2.2"/><circle cx="472.24" cy="138.24" r="2.2"/><circle cx="473.47" cy="138.59" r="2.2"/><circle cx="474.71" cy="138.90" r="2.2"/><circle cx="475.94" cy="139.19" r="2.2"/><circle cx="477.17" cy="139.46" r="2.2"/><circle cx="478.40" cy="139.70" r="2.2"/><circle cx="479.10" cy="124.70" r="2.2"/><circle cx="480.29" cy="126.73" r="2.2"/><circle cx="481.47" cy="128.14" r="2.2"/><circle cx="482.66" cy="129.23" r="2.2"/><circle cx="483.84" cy="130.14" r="2.2"/><circle cx="485.03" cy="130.94" r="2.2"/><circle cx="486.21" cy="131.65" r="2.2"/><circle cx="487.40" cy="132.29" r="2.2"/><circle cx="488.59" cy="132.88" r="2.2"/><circle cx="489.77" cy="133.42" r="2.2"/><circle cx="490.96" cy="133.92" r="2.2"/><circle cx="492.14" cy="134.37" r="2.2"/><circle cx="493.33" cy="134.79" r="2.2"/><circle cx="494.51" cy="135.17" r="2.2"/><circle cx="495.70" cy="135.52" r="2.2"/><circle cx="496.89" cy="135.84" r="2.2"/><circle cx="498.07" cy="136.14" r="2.2"/><circle cx="499.26" cy="136.41" r="2.2"/><circle cx="500.44" cy="136.66" r="2.2"/><circle cx="501.63" cy="136.89" r="2.2"/><circle cx="502.81" cy="137.11" r="2.2"/><circle cx="504.00" cy="137.30" r="2.2"/><circle cx="504.70" cy="123.50" r="2.2"/><circle cx="505.88" cy="125.59" r="2.2"/><circle cx="507.06" cy="127.04" r="2.2"/><circle cx="508.24" cy="128.17" r="2.2"/><circle cx="509.42" cy="129.11" r="2.2"/><circle cx="510.60" cy="129.93" r="2.2"/><circle cx="511.79" cy="130.66" r="2.2"/><circle cx="512.97" cy="131.33" r="2.2"/><circle cx="514.15" cy="131.93" r="2.2"/><circle cx="515.33" cy="132.49" r="2.2"/><circle cx="516.51" cy="133.00" r="2.2"/><circle cx="517.69" cy="133.47" r="2.2"/><circle cx="518.87" cy="133.90" r="2.2"/><circle cx="520.05" cy="134.29" r="2.2"/><circle cx="521.23" cy="134.66" r="2.2"/><circle cx="522.41" cy="134.99" r="2.2"/><circle cx="523.60" cy="135.30" r="2.2"/><circle cx="524.78" cy="135.58" r="2.2"/><circle cx="525.96" cy="135.84" r="2.2"/><circle cx="527.14" cy="136.08" r="2.2"/><circle cx="528.32" cy="136.30" r="2.2"/><circle cx="529.50" cy="136.50" r="2.2"/><circle cx="530.20" cy="120.40" r="2.2"/><circle cx="531.41" cy="122.77" r="2.2"/><circle cx="532.61" cy="124.42" r="2.2"/><circle cx="533.82" cy="125.69" r="2.2"/><circle cx="535.02" cy="126.75" r="2.2"/><circle cx="536.23" cy="127.67" r="2.2"/><circle cx="537.43" cy="128.50" r="2.2"/><circle cx="538.63" cy="129.25" r="2.2"/><circle cx="539.84" cy="129.93" r="2.2"/><circle cx="541.04" cy="130.56" r="2.2"/><circle cx="542.25" cy="131.13" r="2.2"/><circle cx="543.46" cy="131.65" r="2.2"/><circle cx="544.66" cy="132.14" r="2.2"/><circle cx="545.87" cy="132.58" r="2.2"/><circle cx="547.07" cy="132.98" r="2.2"/><circle cx="548.27" cy="133.35" r="2.2"/><circle cx="549.48" cy="133.69" r="2.2"/><circle cx="550.68" cy="134.01" r="2.2"/><circle cx="551.89" cy="134.29" r="2.2"/><circle cx="553.09" cy="134.56" r="2.2"/><circle cx="554.30" cy="134.80" r="2.2"/><circle cx="555.00" cy="120.10" r="2.2"/><circle cx="556.19" cy="122.30" r="2.2"/><circle cx="557.37" cy="123.84" r="2.2"/><circle cx="558.56" cy="125.03" r="2.2"/><circle cx="559.74" cy="126.02" r="2.2"/><circle cx="560.93" cy="126.88" r="2.2"/><circle cx="562.11" cy="127.66" r="2.2"/><circle cx="563.30" cy="128.36" r="2.2"/><circle cx="564.49" cy="129.00" r="2.2"/><circle cx="565.67" cy="129.58" r="2.2"/><circle cx="566.86" cy="130.12" r="2.2"/><circle cx="568.04" cy="130.61" r="2.2"/><circle cx="569.23" cy="131.07" r="2.2"/><circle cx="570.41" cy="131.48" r="2.2"/><circle cx="571.60" cy="131.86" r="2.2"/><circle cx="572.79" cy="132.22" r="2.2"/><circle cx="573.97" cy="132.54" r="2.2"/><circle cx="575.16" cy="132.84" r="2.2"/><circle cx="576.34" cy="133.11" r="2.2"/><circle cx="577.53" cy="133.36" r="2.2"/><circle cx="578.71" cy="133.59" r="2.2"/><circle cx="579.90" cy="133.80" r="2.2"/><circle cx="580.60" cy="117.90" r="2.2"/><circle cx="581.80" cy="120.05" r="2.2"/><circle cx="582.99" cy="121.54" r="2.2"/><circle cx="584.19" cy="122.70" r="2.2"/><circle cx="585.38" cy="123.66" r="2.2"/><circle cx="586.58" cy="124.50" r="2.2"/><circle cx="587.77" cy="125.25" r="2.2"/><circle cx="588.97" cy="125.93" r="2.2"/><circle cx="590.16" cy="126.55" r="2.2"/><circle cx="591.36" cy="127.12" r="2.2"/><circle cx="592.55" cy="127.64" r="2.2"/><circle cx="593.75" cy="128.12" r="2.2"/><circle cx="594.94" cy="128.56" r="2.2"/><circle cx="596.14" cy="128.96" r="2.2"/><circle cx="597.33" cy="129.33" r="2.2"/><circle cx="598.53" cy="129.67" r="2.2"/><circle cx="599.72" cy="129.98" r="2.2"/><circle cx="600.92" cy="130.27" r="2.2"/><circle cx="602.11" cy="130.53" r="2.2"/><circle cx="603.31" cy="130.77" r="2.2"/><circle cx="604.50" cy="131.00" r="2.2"/><circle cx="605.70" cy="131.20" r="2.2"/><circle cx="606.40" cy="116.70" r="2.2"/><circle cx="607.61" cy="119.06" r="2.2"/><circle cx="608.82" cy="120.69" r="2.2"/><circle cx="610.04" cy="121.95" r="2.2"/><circle cx="611.25" cy="123.01" r="2.2"/><circle cx="612.46" cy="123.92" r="2.2"/><circle cx="613.67" cy="124.75" r="2.2"/><circle cx="614.88" cy="125.49" r="2.2"/><circle cx="616.09" cy="126.17" r="2.2"/><circle cx="617.31" cy="126.79" r="2.2"/><circle cx="618.52" cy="127.35" r="2.2"/><circle cx="619.73" cy="127.87" r="2.2"/><circle cx="620.94" cy="128.35" r="2.2"/><circle cx="622.15" cy="128.79" r="2.2"/><circle cx="623.36" cy="129.19" r="2.2"/><circle cx="624.58" cy="129.55" r="2.2"/><circle cx="625.79" cy="129.89" r="2.2"/><circle cx="627.00" cy="130.20" r="2.2"/></g><g fill="#fff" stroke="#8a1ef0" stroke-width="0.7"><path d="M360.50 186.80 L361.68 187.73 L362.85 188.56 L364.02 189.30 L365.20 189.95 L366.38 190.53 L367.55 191.05 L368.73 191.51 L369.90 191.92 L371.07 192.28 L372.25 192.61 L373.43 192.89 L374.60 193.15 L375.77 193.38 L376.95 193.58 L378.12 193.76 L379.30 193.92 L380.48 194.06 L381.65 194.19 L382.82 194.30 L384.00 194.40 L384.00 194.40 L384.60 177.30 L385.80 180.64 L387.00 182.70 L388.20 184.12 L389.40 185.20 L390.60 186.07 L391.80 186.81 L393.00 187.44 L394.20 188.00 L395.40 188.49 L396.60 188.93 L397.80 189.31 L399.00 189.65 L400.20 189.95 L401.40 190.22 L402.60 190.46 L403.80 190.67 L405.00 190.86 L406.20 191.02 L407.40 191.17 L408.60 191.30 L408.60 191.30 L409.40 178.90 L410.56 180.87 L411.72 182.09 L412.88 182.94 L414.04 183.59 L415.20 184.11 L416.36 184.56 L417.52 184.94 L418.68 185.27 L419.84 185.57 L421.00 185.84 L422.16 186.07 L423.32 186.28 L424.48 186.46 L425.64 186.63 L426.80 186.77 L427.96 186.91 L429.12 187.02 L430.28 187.13 L431.44 187.22 L432.60 187.30 L432.60 187.30 L433.30 174.90 L434.40 176.94 L435.50 178.24 L436.60 179.15 L437.70 179.84 L438.80 180.41 L439.90 180.88 L441.00 181.29 L442.10 181.66 L443.20 181.98 L444.30 182.26 L445.40 182.52 L446.50 182.75 L447.60 182.95 L448.70 183.14 L449.80 183.30 L450.90 183.45 L452.00 183.58 L453.10 183.70 L454.20 183.81 L455.30 183.90 L455.30 183.90 L456.20 172.10 L457.31 174.02 L458.43 175.24 L459.55 176.09 L460.66 176.73 L461.77 177.26 L462.89 177.70 L464.00 178.08 L465.12 178.42 L466.24 178.72 L467.35 178.99 L468.46 179.23 L469.58 179.44 L470.69 179.63 L471.81 179.80 L472.93 179.95 L474.04 180.09 L475.15 180.21 L476.27 180.32 L477.38 180.41 L478.50 180.50 L478.50 180.50 L479.40 167.50 L480.63 170.48 L481.86 172.30 L483.09 173.55 L484.32 174.49 L485.55 175.26 L486.78 175.91 L488.01 176.46 L489.24 176.95 L490.47 177.38 L491.70 177.76 L492.93 178.09 L494.16 178.39 L495.39 178.65 L496.62 178.88 L497.85 179.08 L499.08 179.26 L500.31 179.42 L501.54 179.57 L502.77 179.69 L504.00 179.80 L504.00 179.80 L504.80 163.80 L506.03 167.18 L507.25 169.25 L508.48 170.67 L509.70 171.75 L510.93 172.62 L512.15 173.36 L513.38 173.99 L514.60 174.55 L515.82 175.04 L517.05 175.47 L518.27 175.85 L519.50 176.19 L520.73 176.49 L521.95 176.75 L523.17 176.98 L524.40 177.19 L525.62 177.37 L526.85 177.53 L528.07 177.67 L529.30 177.80 L529.30 177.80 L530.30 163.60 L531.44 166.43 L532.58 168.20 L533.72 169.44 L534.86 170.37 L536.00 171.14 L537.14 171.78 L538.28 172.34 L539.42 172.82 L540.56 173.26 L541.70 173.64 L542.84 173.98 L543.98 174.29 L545.12 174.56 L546.26 174.80 L547.40 175.02 L548.54 175.21 L549.68 175.39 L550.82 175.54 L551.96 175.68 L553.10 175.80 L553.10 175.80 L554.00 160.60 L555.16 163.71 L556.32 165.65 L557.48 167.00 L558.64 168.02 L559.80 168.85 L560.96 169.55 L562.12 170.16 L563.28 170.69 L564.44 171.16 L565.60 171.58 L566.76 171.95 L567.92 172.28 L569.08 172.57 L570.24 172.84 L571.40 173.07 L572.56 173.28 L573.72 173.46 L574.88 173.62 L576.04 173.77 L577.20 173.90 L577.20 173.90 L578.10 158.60 L579.19 161.39 L580.27 163.18 L581.36 164.43 L582.44 165.38 L583.52 166.16 L584.61 166.81 L585.70 167.38 L586.78 167.88 L587.87 168.33 L588.95 168.72 L590.03 169.08 L591.12 169.39 L592.20 169.68 L593.29 169.93 L594.38 170.16 L595.46 170.37 L596.54 170.55 L597.63 170.72 L598.71 170.87 L599.80 171.00 L599.80 171.00 L602.10 157.20 L603.19 159.98 L604.28 161.75 L605.37 162.99 L606.46 163.94 L607.55 164.71 L608.64 165.36 L609.73 165.92 L610.82 166.41 L611.91 166.86 L613.00 167.25 L614.09 167.60 L615.18 167.91 L616.27 168.20 L617.36 168.45 L618.45 168.67 L619.54 168.88 L620.63 169.06 L621.72 169.22 L622.81 169.37 L623.90 169.50 L623.90 169.50 L625.30 154.00 L625.38 154.28 L625.47 154.55 L625.55 154.81 L625.64 155.06 L625.72 155.30 L625.81 155.53 L625.89 155.75 L625.98 155.96 L626.06 156.16 L626.15 156.36 L626.24 156.55 L626.32 156.74 L626.40 156.91 L626.49 157.08 L626.58 157.25 L626.66 157.41 L626.75 157.56 L626.83 157.71 L626.91 157.86 L627.00 158.00 L627.00 158.00" fill="none" stroke="#8a1ef0" stroke-width="1.2" stroke-linejoin="round"/><line x1="384.00" y1="194.40" x2="384.60" y2="177.30" stroke="#8a1ef0" stroke-width="2.4" stroke-linecap="round"/><line x1="408.60" y1="191.30" x2="409.40" y2="178.90" stroke="#8a1ef0" stroke-width="2.4" stroke-linecap="round"/><line x1="432.60" y1="187.30" x2="433.30" y2="174.90" stroke="#8a1ef0" stroke-width="2.4" stroke-linecap="round"/><line x1="455.30" y1="183.90" x2="456.20" y2="172.10" stroke="#8a1ef0" stroke-width="2.4" stroke-linecap="round"/><line x1="478.50" y1="180.50" x2="479.40" y2="167.50" stroke="#8a1ef0" stroke-width="2.4" stroke-linecap="round"/><line x1="504.00" y1="179.80" x2="504.80" y2="163.80" stroke="#8a1ef0" stroke-width="2.4" stroke-linecap="round"/><line x1="529.30" y1="177.80" x2="530.30" y2="163.60" stroke="#8a1ef0" stroke-width="2.4" stroke-linecap="round"/><line x1="553.10" y1="175.80" x2="554.00" y2="160.60" stroke="#8a1ef0" stroke-width="2.4" stroke-linecap="round"/><line x1="577.20" y1="173.90" x2="578.10" y2="158.60" stroke="#8a1ef0" stroke-width="2.4" stroke-linecap="round"/><line x1="599.80" y1="171.00" x2="602.10" y2="157.20" stroke="#8a1ef0" stroke-width="2.4" stroke-linecap="round"/><line x1="623.90" y1="169.50" x2="625.30" y2="154.00" stroke="#8a1ef0" stroke-width="2.4" stroke-linecap="round"/><circle cx="360.50" cy="186.80" r="1.85"/><circle cx="361.68" cy="187.73" r="1.85"/><circle cx="362.85" cy="188.56" r="1.85"/><circle cx="364.02" cy="189.30" r="1.85"/><circle cx="365.20" cy="189.95" r="1.85"/><circle cx="366.38" cy="190.53" r="1.85"/><circle cx="367.55" cy="191.05" r="1.85"/><circle cx="368.73" cy="191.51" r="1.85"/><circle cx="369.90" cy="191.92" r="1.85"/><circle cx="371.07" cy="192.28" r="1.85"/><circle cx="372.25" cy="192.61" r="1.85"/><circle cx="373.43" cy="192.89" r="1.85"/><circle cx="374.60" cy="193.15" r="1.85"/><circle cx="375.77" cy="193.38" r="1.85"/><circle cx="376.95" cy="193.58" r="1.85"/><circle cx="378.12" cy="193.76" r="1.85"/><circle cx="379.30" cy="193.92" r="1.85"/><circle cx="380.48" cy="194.06" r="1.85"/><circle cx="381.65" cy="194.19" r="1.85"/><circle cx="382.82" cy="194.30" r="1.85"/><circle cx="384.00" cy="194.40" r="1.85"/><circle cx="384.60" cy="177.30" r="1.85"/><circle cx="385.80" cy="180.64" r="1.85"/><circle cx="387.00" cy="182.70" r="1.85"/><circle cx="388.20" cy="184.12" r="1.85"/><circle cx="389.40" cy="185.20" r="1.85"/><circle cx="390.60" cy="186.07" r="1.85"/><circle cx="391.80" cy="186.81" r="1.85"/><circle cx="393.00" cy="187.44" r="1.85"/><circle cx="394.20" cy="188.00" r="1.85"/><circle cx="395.40" cy="188.49" r="1.85"/><circle cx="396.60" cy="188.93" r="1.85"/><circle cx="397.80" cy="189.31" r="1.85"/><circle cx="399.00" cy="189.65" r="1.85"/><circle cx="400.20" cy="189.95" r="1.85"/><circle cx="401.40" cy="190.22" r="1.85"/><circle cx="402.60" cy="190.46" r="1.85"/><circle cx="403.80" cy="190.67" r="1.85"/><circle cx="405.00" cy="190.86" r="1.85"/><circle cx="406.20" cy="191.02" r="1.85"/><circle cx="407.40" cy="191.17" r="1.85"/><circle cx="408.60" cy="191.30" r="1.85"/><circle cx="409.40" cy="178.90" r="1.85"/><circle cx="410.62" cy="180.94" r="1.85"/><circle cx="411.84" cy="182.20" r="1.85"/><circle cx="413.06" cy="183.06" r="1.85"/><circle cx="414.28" cy="183.71" r="1.85"/><circle cx="415.51" cy="184.24" r="1.85"/><circle cx="416.73" cy="184.68" r="1.85"/><circle cx="417.95" cy="185.07" r="1.85"/><circle cx="419.17" cy="185.40" r="1.85"/><circle cx="420.39" cy="185.70" r="1.85"/><circle cx="421.61" cy="185.96" r="1.85"/><circle cx="422.83" cy="186.19" r="1.85"/><circle cx="424.05" cy="186.40" r="1.85"/><circle cx="425.27" cy="186.58" r="1.85"/><circle cx="426.49" cy="186.74" r="1.85"/><circle cx="427.72" cy="186.88" r="1.85"/><circle cx="428.94" cy="187.00" r="1.85"/><circle cx="430.16" cy="187.12" r="1.85"/><circle cx="431.38" cy="187.21" r="1.85"/><circle cx="432.60" cy="187.30" r="1.85"/><circle cx="433.30" cy="174.90" r="1.85"/><circle cx="434.52" cy="177.11" r="1.85"/><circle cx="435.74" cy="178.47" r="1.85"/><circle cx="436.97" cy="179.40" r="1.85"/><circle cx="438.19" cy="180.11" r="1.85"/><circle cx="439.41" cy="180.68" r="1.85"/><circle cx="440.63" cy="181.16" r="1.85"/><circle cx="441.86" cy="181.58" r="1.85"/><circle cx="443.08" cy="181.94" r="1.85"/><circle cx="444.30" cy="182.26" r="1.85"/><circle cx="445.52" cy="182.55" r="1.85"/><circle cx="446.74" cy="182.80" r="1.85"/><circle cx="447.97" cy="183.02" r="1.85"/><circle cx="449.19" cy="183.21" r="1.85"/><circle cx="450.41" cy="183.39" r="1.85"/><circle cx="451.63" cy="183.54" r="1.85"/><circle cx="452.86" cy="183.67" r="1.85"/><circle cx="454.08" cy="183.79" r="1.85"/><circle cx="455.30" cy="183.90" r="1.85"/><circle cx="456.20" cy="172.10" r="1.85"/><circle cx="457.37" cy="174.10" r="1.85"/><circle cx="458.55" cy="175.34" r="1.85"/><circle cx="459.72" cy="176.20" r="1.85"/><circle cx="460.89" cy="176.85" r="1.85"/><circle cx="462.07" cy="177.38" r="1.85"/><circle cx="463.24" cy="177.83" r="1.85"/><circle cx="464.42" cy="178.21" r="1.85"/><circle cx="465.59" cy="178.55" r="1.85"/><circle cx="466.76" cy="178.85" r="1.85"/><circle cx="467.94" cy="179.12" r="1.85"/><circle cx="469.11" cy="179.35" r="1.85"/><circle cx="470.28" cy="179.56" r="1.85"/><circle cx="471.46" cy="179.75" r="1.85"/><circle cx="472.63" cy="179.91" r="1.85"/><circle cx="473.81" cy="180.06" r="1.85"/><circle cx="474.98" cy="180.19" r="1.85"/><circle cx="476.15" cy="180.31" r="1.85"/><circle cx="477.33" cy="180.41" r="1.85"/><circle cx="478.50" cy="180.50" r="1.85"/><circle cx="479.40" cy="167.50" r="1.85"/><circle cx="480.57" cy="170.37" r="1.85"/><circle cx="481.74" cy="172.15" r="1.85"/><circle cx="482.91" cy="173.39" r="1.85"/><circle cx="484.09" cy="174.33" r="1.85"/><circle cx="485.26" cy="175.09" r="1.85"/><circle cx="486.43" cy="175.73" r="1.85"/><circle cx="487.60" cy="176.29" r="1.85"/><circle cx="488.77" cy="176.77" r="1.85"/><circle cx="489.94" cy="177.20" r="1.85"/><circle cx="491.11" cy="177.59" r="1.85"/><circle cx="492.29" cy="177.92" r="1.85"/><circle cx="493.46" cy="178.23" r="1.85"/><circle cx="494.63" cy="178.49" r="1.85"/><circle cx="495.80" cy="178.73" r="1.85"/><circle cx="496.97" cy="178.94" r="1.85"/><circle cx="498.14" cy="179.13" r="1.85"/><circle cx="499.31" cy="179.30" r="1.85"/><circle cx="500.49" cy="179.45" r="1.85"/><circle cx="501.66" cy="179.58" r="1.85"/><circle cx="502.83" cy="179.70" r="1.85"/><circle cx="504.00" cy="179.80" r="1.85"/><circle cx="504.80" cy="163.80" r="1.85"/><circle cx="506.03" cy="167.18" r="1.85"/><circle cx="507.25" cy="169.25" r="1.85"/><circle cx="508.48" cy="170.67" r="1.85"/><circle cx="509.70" cy="171.75" r="1.85"/><circle cx="510.93" cy="172.62" r="1.85"/><circle cx="512.15" cy="173.36" r="1.85"/><circle cx="513.38" cy="173.99" r="1.85"/><circle cx="514.60" cy="174.55" r="1.85"/><circle cx="515.82" cy="175.04" r="1.85"/><circle cx="517.05" cy="175.47" r="1.85"/><circle cx="518.27" cy="175.85" r="1.85"/><circle cx="519.50" cy="176.19" r="1.85"/><circle cx="520.73" cy="176.49" r="1.85"/><circle cx="521.95" cy="176.75" r="1.85"/><circle cx="523.17" cy="176.98" r="1.85"/><circle cx="524.40" cy="177.19" r="1.85"/><circle cx="525.62" cy="177.37" r="1.85"/><circle cx="526.85" cy="177.53" r="1.85"/><circle cx="528.07" cy="177.67" r="1.85"/><circle cx="529.30" cy="177.80" r="1.85"/><circle cx="530.30" cy="163.60" r="1.85"/><circle cx="531.50" cy="166.54" r="1.85"/><circle cx="532.70" cy="168.35" r="1.85"/><circle cx="533.90" cy="169.60" r="1.85"/><circle cx="535.10" cy="170.55" r="1.85"/><circle cx="536.30" cy="171.31" r="1.85"/><circle cx="537.50" cy="171.96" r="1.85"/><circle cx="538.70" cy="172.52" r="1.85"/><circle cx="539.90" cy="173.01" r="1.85"/><circle cx="541.10" cy="173.45" r="1.85"/><circle cx="542.30" cy="173.83" r="1.85"/><circle cx="543.50" cy="174.17" r="1.85"/><circle cx="544.70" cy="174.47" r="1.85"/><circle cx="545.90" cy="174.73" r="1.85"/><circle cx="547.10" cy="174.97" r="1.85"/><circle cx="548.30" cy="175.18" r="1.85"/><circle cx="549.50" cy="175.36" r="1.85"/><circle cx="550.70" cy="175.53" r="1.85"/><circle cx="551.90" cy="175.67" r="1.85"/><circle cx="553.10" cy="175.80" r="1.85"/><circle cx="554.00" cy="160.60" r="1.85"/><circle cx="555.22" cy="163.84" r="1.85"/><circle cx="556.44" cy="165.82" r="1.85"/><circle cx="557.66" cy="167.18" r="1.85"/><circle cx="558.88" cy="168.21" r="1.85"/><circle cx="560.11" cy="169.05" r="1.85"/><circle cx="561.33" cy="169.76" r="1.85"/><circle cx="562.55" cy="170.37" r="1.85"/><circle cx="563.77" cy="170.90" r="1.85"/><circle cx="564.99" cy="171.37" r="1.85"/><circle cx="566.21" cy="171.78" r="1.85"/><circle cx="567.43" cy="172.15" r="1.85"/><circle cx="568.65" cy="172.47" r="1.85"/><circle cx="569.87" cy="172.76" r="1.85"/><circle cx="571.09" cy="173.01" r="1.85"/><circle cx="572.32" cy="173.23" r="1.85"/><circle cx="573.54" cy="173.43" r="1.85"/><circle cx="574.76" cy="173.61" r="1.85"/><circle cx="575.98" cy="173.76" r="1.85"/><circle cx="577.20" cy="173.90" r="1.85"/><circle cx="578.10" cy="158.60" r="1.85"/><circle cx="579.31" cy="161.63" r="1.85"/><circle cx="580.51" cy="163.49" r="1.85"/><circle cx="581.72" cy="164.77" r="1.85"/><circle cx="582.92" cy="165.75" r="1.85"/><circle cx="584.13" cy="166.53" r="1.85"/><circle cx="585.33" cy="167.20" r="1.85"/><circle cx="586.54" cy="167.78" r="1.85"/><circle cx="587.74" cy="168.28" r="1.85"/><circle cx="588.95" cy="168.72" r="1.85"/><circle cx="590.16" cy="169.11" r="1.85"/><circle cx="591.36" cy="169.46" r="1.85"/><circle cx="592.57" cy="169.77" r="1.85"/><circle cx="593.77" cy="170.04" r="1.85"/><circle cx="594.98" cy="170.28" r="1.85"/><circle cx="596.18" cy="170.49" r="1.85"/><circle cx="597.39" cy="170.68" r="1.85"/><circle cx="598.59" cy="170.85" r="1.85"/><circle cx="599.80" cy="171.00" r="1.85"/><circle cx="602.10" cy="157.20" r="1.85"/><circle cx="603.31" cy="160.21" r="1.85"/><circle cx="604.52" cy="162.06" r="1.85"/><circle cx="605.73" cy="163.33" r="1.85"/><circle cx="606.94" cy="164.30" r="1.85"/><circle cx="608.16" cy="165.08" r="1.85"/><circle cx="609.37" cy="165.74" r="1.85"/><circle cx="610.58" cy="166.31" r="1.85"/><circle cx="611.79" cy="166.81" r="1.85"/><circle cx="613.00" cy="167.25" r="1.85"/><circle cx="614.21" cy="167.64" r="1.85"/><circle cx="615.42" cy="167.98" r="1.85"/><circle cx="616.63" cy="168.28" r="1.85"/><circle cx="617.84" cy="168.55" r="1.85"/><circle cx="619.06" cy="168.79" r="1.85"/><circle cx="620.27" cy="169.00" r="1.85"/><circle cx="621.48" cy="169.19" r="1.85"/><circle cx="622.69" cy="169.35" r="1.85"/><circle cx="623.90" cy="169.50" r="1.85"/><circle cx="625.30" cy="154.00" r="1.85"/><circle cx="627.00" cy="158.00" r="1.85"/></g></g></g><rect x="359.8" y="7.3" width="267.7" height="192.2" fill="none" stroke="#444" stroke-width="1.5"/><line x1="356.3" y1="199.5" x2="359.8" y2="199.5" stroke="#3c3c3c" stroke-width="1"/><text x="353.6" y="203.4" font-family="Liberation Sans, Arial, sans-serif" font-size="15.5" text-anchor="end" stroke="#151515" stroke-width="0.35" fill="#151515">0</text><line x1="356.3" y1="176.8" x2="359.8" y2="176.8" stroke="#3c3c3c" stroke-width="1"/><text x="353.6" y="180.7" font-family="Liberation Sans, Arial, sans-serif" font-size="15.5" text-anchor="end" stroke="#151515" stroke-width="0.35" fill="#151515">2</text><line x1="356.3" y1="154.1" x2="359.8" y2="154.1" stroke="#3c3c3c" stroke-width="1"/><text x="353.6" y="158.0" font-family="Liberation Sans, Arial, sans-serif" font-size="15.5" text-anchor="end" stroke="#151515" stroke-width="0.35" fill="#151515">4</text><line x1="356.3" y1="131.5" x2="359.8" y2="131.5" stroke="#3c3c3c" stroke-width="1"/><text x="353.6" y="135.4" font-family="Liberation Sans, Arial, sans-serif" font-size="15.5" text-anchor="end" stroke="#151515" stroke-width="0.35" fill="#151515">6</text><line x1="356.3" y1="108.8" x2="359.8" y2="108.8" stroke="#3c3c3c" stroke-width="1"/><text x="353.6" y="112.7" font-family="Liberation Sans, Arial, sans-serif" font-size="15.5" text-anchor="end" stroke="#151515" stroke-width="0.35" fill="#151515">8</text><line x1="356.3" y1="86.1" x2="359.8" y2="86.1" stroke="#3c3c3c" stroke-width="1"/><text x="353.6" y="90.0" font-family="Liberation Sans, Arial, sans-serif" font-size="15.5" text-anchor="end" stroke="#151515" stroke-width="0.35" fill="#151515">10</text><line x1="356.3" y1="63.4" x2="359.8" y2="63.4" stroke="#3c3c3c" stroke-width="1"/><text x="353.6" y="67.3" font-family="Liberation Sans, Arial, sans-serif" font-size="15.5" text-anchor="end" stroke="#151515" stroke-width="0.35" fill="#151515">12</text><line x1="356.3" y1="40.7" x2="359.8" y2="40.7" stroke="#3c3c3c" stroke-width="1"/><text x="353.6" y="44.6" font-family="Liberation Sans, Arial, sans-serif" font-size="15.5" text-anchor="end" stroke="#151515" stroke-width="0.35" fill="#151515">14</text><line x1="356.3" y1="18.1" x2="359.8" y2="18.1" stroke="#3c3c3c" stroke-width="1"/><text x="353.6" y="22.0" font-family="Liberation Sans, Arial, sans-serif" font-size="15.5" text-anchor="end" stroke="#151515" stroke-width="0.35" fill="#151515">16</text><line x1="357.7" y1="188.2" x2="359.8" y2="188.2" stroke="#3c3c3c" stroke-width="1"/><line x1="357.7" y1="165.5" x2="359.8" y2="165.5" stroke="#3c3c3c" stroke-width="1"/><line x1="357.7" y1="142.8" x2="359.8" y2="142.8" stroke="#3c3c3c" stroke-width="1"/><line x1="357.7" y1="120.1" x2="359.8" y2="120.1" stroke="#3c3c3c" stroke-width="1"/><line x1="357.7" y1="97.4" x2="359.8" y2="97.4" stroke="#3c3c3c" stroke-width="1"/><line x1="357.7" y1="74.8" x2="359.8" y2="74.8" stroke="#3c3c3c" stroke-width="1"/><line x1="357.7" y1="52.1" x2="359.8" y2="52.1" stroke="#3c3c3c" stroke-width="1"/><line x1="357.7" y1="29.4" x2="359.8" y2="29.4" stroke="#3c3c3c" stroke-width="1"/><line x1="359.8" y1="199.5" x2="359.8" y2="202.5" stroke="#3c3c3c" stroke-width="1"/><text x="359.8" y="217.0" font-family="Liberation Sans, Arial, sans-serif" font-size="15.5" text-anchor="middle" stroke="#151515" stroke-width="0.35" fill="#151515">0</text><line x1="386.6" y1="199.5" x2="386.6" y2="202.5" stroke="#3c3c3c" stroke-width="1"/><text x="386.6" y="217.0" font-family="Liberation Sans, Arial, sans-serif" font-size="15.5" text-anchor="middle" stroke="#151515" stroke-width="0.35" fill="#151515">1</text><line x1="413.3" y1="199.5" x2="413.3" y2="202.5" stroke="#3c3c3c" stroke-width="1"/><text x="413.3" y="217.0" font-family="Liberation Sans, Arial, sans-serif" font-size="15.5" text-anchor="middle" stroke="#151515" stroke-width="0.35" fill="#151515">2</text><line x1="440.1" y1="199.5" x2="440.1" y2="202.5" stroke="#3c3c3c" stroke-width="1"/><text x="440.1" y="217.0" font-family="Liberation Sans, Arial, sans-serif" font-size="15.5" text-anchor="middle" stroke="#151515" stroke-width="0.35" fill="#151515">3</text><line x1="466.9" y1="199.5" x2="466.9" y2="202.5" stroke="#3c3c3c" stroke-width="1"/><text x="466.9" y="217.0" font-family="Liberation Sans, Arial, sans-serif" font-size="15.5" text-anchor="middle" stroke="#151515" stroke-width="0.35" fill="#151515">4</text><line x1="493.6" y1="199.5" x2="493.6" y2="202.5" stroke="#3c3c3c" stroke-width="1"/><text x="493.6" y="217.0" font-family="Liberation Sans, Arial, sans-serif" font-size="15.5" text-anchor="middle" stroke="#151515" stroke-width="0.35" fill="#151515">5</text><line x1="520.4" y1="199.5" x2="520.4" y2="202.5" stroke="#3c3c3c" stroke-width="1"/><text x="520.4" y="217.0" font-family="Liberation Sans, Arial, sans-serif" font-size="15.5" text-anchor="middle" stroke="#151515" stroke-width="0.35" fill="#151515">6</text><line x1="547.2" y1="199.5" x2="547.2" y2="202.5" stroke="#3c3c3c" stroke-width="1"/><text x="547.2" y="217.0" font-family="Liberation Sans, Arial, sans-serif" font-size="15.5" text-anchor="middle" stroke="#151515" stroke-width="0.35" fill="#151515">7</text><line x1="574.0" y1="199.5" x2="574.0" y2="202.5" stroke="#3c3c3c" stroke-width="1"/><text x="574.0" y="217.0" font-family="Liberation Sans, Arial, sans-serif" font-size="15.5" text-anchor="middle" stroke="#151515" stroke-width="0.35" fill="#151515">8</text><line x1="600.7" y1="199.5" x2="600.7" y2="202.5" stroke="#3c3c3c" stroke-width="1"/><text x="600.7" y="217.0" font-family="Liberation Sans, Arial, sans-serif" font-size="15.5" text-anchor="middle" stroke="#151515" stroke-width="0.35" fill="#151515">9</text><line x1="627.5" y1="199.5" x2="627.5" y2="202.5" stroke="#3c3c3c" stroke-width="1"/><text x="627.5" y="217.0" font-family="Liberation Sans, Arial, sans-serif" font-size="15.5" text-anchor="middle" stroke="#151515" stroke-width="0.35" fill="#151515">10</text><line x1="373.2" y1="199.5" x2="373.2" y2="201.5" stroke="#3c3c3c" stroke-width="1"/><line x1="400.0" y1="199.5" x2="400.0" y2="201.5" stroke="#3c3c3c" stroke-width="1"/><line x1="426.7" y1="199.5" x2="426.7" y2="201.5" stroke="#3c3c3c" stroke-width="1"/><line x1="453.5" y1="199.5" x2="453.5" y2="201.5" stroke="#3c3c3c" stroke-width="1"/><line x1="480.3" y1="199.5" x2="480.3" y2="201.5" stroke="#3c3c3c" stroke-width="1"/><line x1="507.0" y1="199.5" x2="507.0" y2="201.5" stroke="#3c3c3c" stroke-width="1"/><line x1="533.8" y1="199.5" x2="533.8" y2="201.5" stroke="#3c3c3c" stroke-width="1"/><line x1="560.6" y1="199.5" x2="560.6" y2="201.5" stroke="#3c3c3c" stroke-width="1"/><line x1="587.3" y1="199.5" x2="587.3" y2="201.5" stroke="#3c3c3c" stroke-width="1"/><line x1="614.1" y1="199.5" x2="614.1" y2="201.5" stroke="#3c3c3c" stroke-width="1"/><text x="505.6" y="237.6" font-family="Liberation Sans, Arial, sans-serif" font-size="20" text-anchor="middle" textLength="74.8" lengthAdjust="spacingAndGlyphs" stroke="#151515" stroke-width="0.35" fill="#151515">Time (s)</text><text transform="translate(326.2,101.3) rotate(-90)" font-family="Liberation Sans, Arial, sans-serif" font-size="20" text-anchor="middle" fill="#151515" stroke="#151515" stroke-width="0.35">I<tspan font-size="12" dy="7.6">ds</tspan><tspan dy="-7.6"> (nA)</tspan></text><text x="314.3" y="12.9" font-family="Liberation Serif, Times New Roman, serif" font-size="16" stroke="#222" stroke-width="0.15" fill="#222">(b)</text></g></svg></body></html>
